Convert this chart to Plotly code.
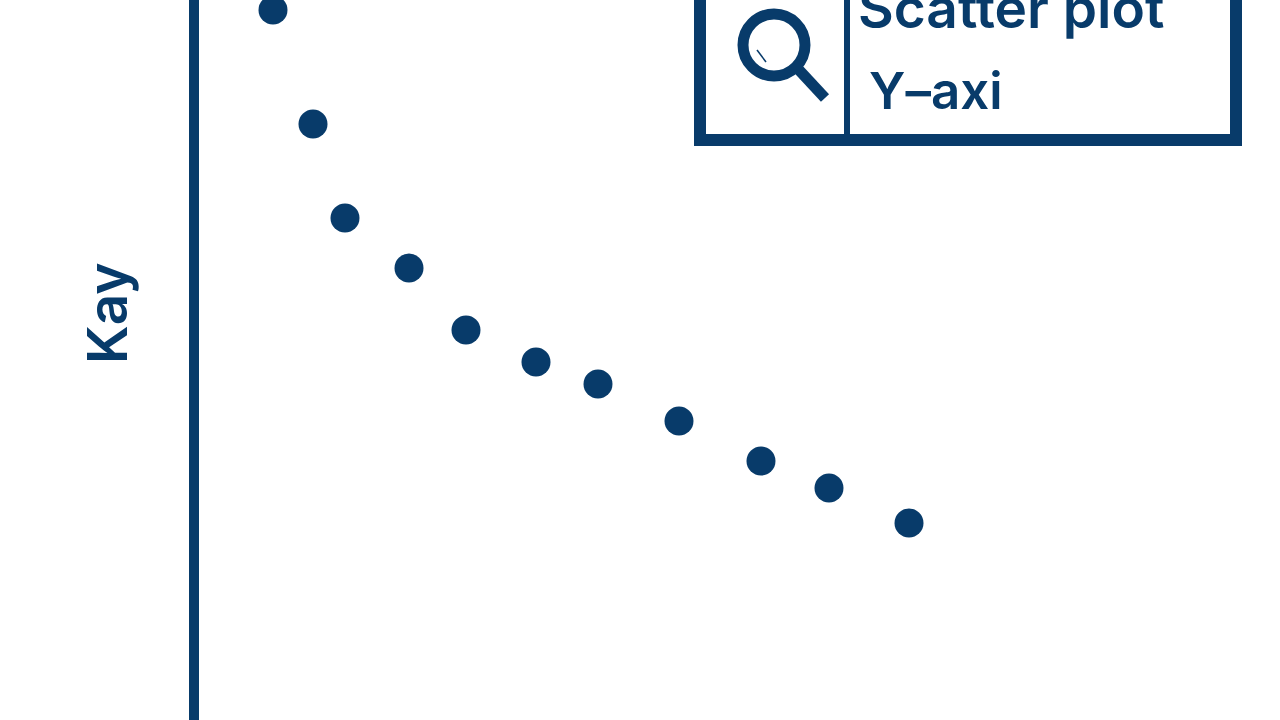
import plotly.graph_objects as go

x_values = [7.4, 11.4, 14.6, 21.0, 26.7, 33.7, 39.9, 48.0, 56.2, 63.0, 71.0]
y_values = [71.0, 59.6, 50.2, 45.2, 39.0, 35.8, 33.6, 29.9, 25.9, 23.2, 19.7]
y_title = "Kay"
box_title = "Scatter plot"
box_subtitle = "Y\u2013axi"
NAVY = "#083b6a"
W, H = 1280, 720


def px(x):
    return x / W


def py(y):
    return 1 - y / H


fig = go.Figure(go.Scatter(
    x=x_values, y=y_values, mode="markers",
    marker=dict(color=NAVY, size=29, line=dict(width=0)),
    cliponaxis=False, hoverinfo="skip",
))

shapes = [
    dict(type="line", x0=px(700), x1=px(700), y0=py(-5), y1=py(140), line=dict(color=NAVY, width=12)),
    dict(type="line", x0=px(1236), x1=px(1236), y0=py(-5), y1=py(140), line=dict(color=NAVY, width=12)),
    dict(type="line", x0=px(694), x1=px(1242), y0=py(140), y1=py(140), line=dict(color=NAVY, width=12)),
    dict(type="line", x0=px(847), x1=px(847), y0=py(-5), y1=py(140), line=dict(color=NAVY, width=6)),
    dict(type="circle", x0=px(743), x1=px(805), y0=py(76), y1=py(14), line=dict(color=NAVY, width=11)),
    dict(type="line", x0=px(799), x1=px(825), y0=py(70), y1=py(98), line=dict(color=NAVY, width=11)),
    dict(type="line", x0=px(757), x1=px(766), y0=py(50), y1=py(62), line=dict(color=NAVY, width=1.5)),
]
for s in shapes:
    s.update(xref="paper", yref="paper")

font_family = "Inter, 'Noto Sans', sans-serif"
annotations = [
    dict(text=box_title, x=px(856), y=py(8), xanchor="left", yanchor="middle",
         xref="paper", yref="paper", showarrow=False,
         font=dict(family=font_family, size=55, color=NAVY, weight=600)),
    dict(text=box_subtitle, x=px(867), y=py(90), xanchor="left", yanchor="middle",
         xref="paper", yref="paper", showarrow=False,
         font=dict(family=font_family, size=51, color=NAVY, weight=600)),
    dict(text=y_title, x=px(107), y=py(313), xanchor="center", yanchor="middle",
         xref="paper", yref="paper", showarrow=False, textangle=-90,
         font=dict(family=font_family, size=55, color=NAVY, weight=600)),
]

fig.update_layout(
    width=W, height=H, autosize=False,
    margin=dict(l=0, r=0, t=0, b=0),
    paper_bgcolor="white", plot_bgcolor="white",
    showlegend=False, shapes=shapes, annotations=annotations,
    xaxis=dict(domain=[199 / W, 1], range=[0, 108.1], visible=False, fixedrange=True),
    yaxis=dict(range=[0, 72], showline=True, linecolor=NAVY, linewidth=10,
               showgrid=False, zeroline=False, ticks="", showticklabels=False, fixedrange=True),
)
fig.write_html("out.html", config={"displayModeBar": False},
               post_script="document.body.style.margin='0';document.body.style.overflow='hidden';")
